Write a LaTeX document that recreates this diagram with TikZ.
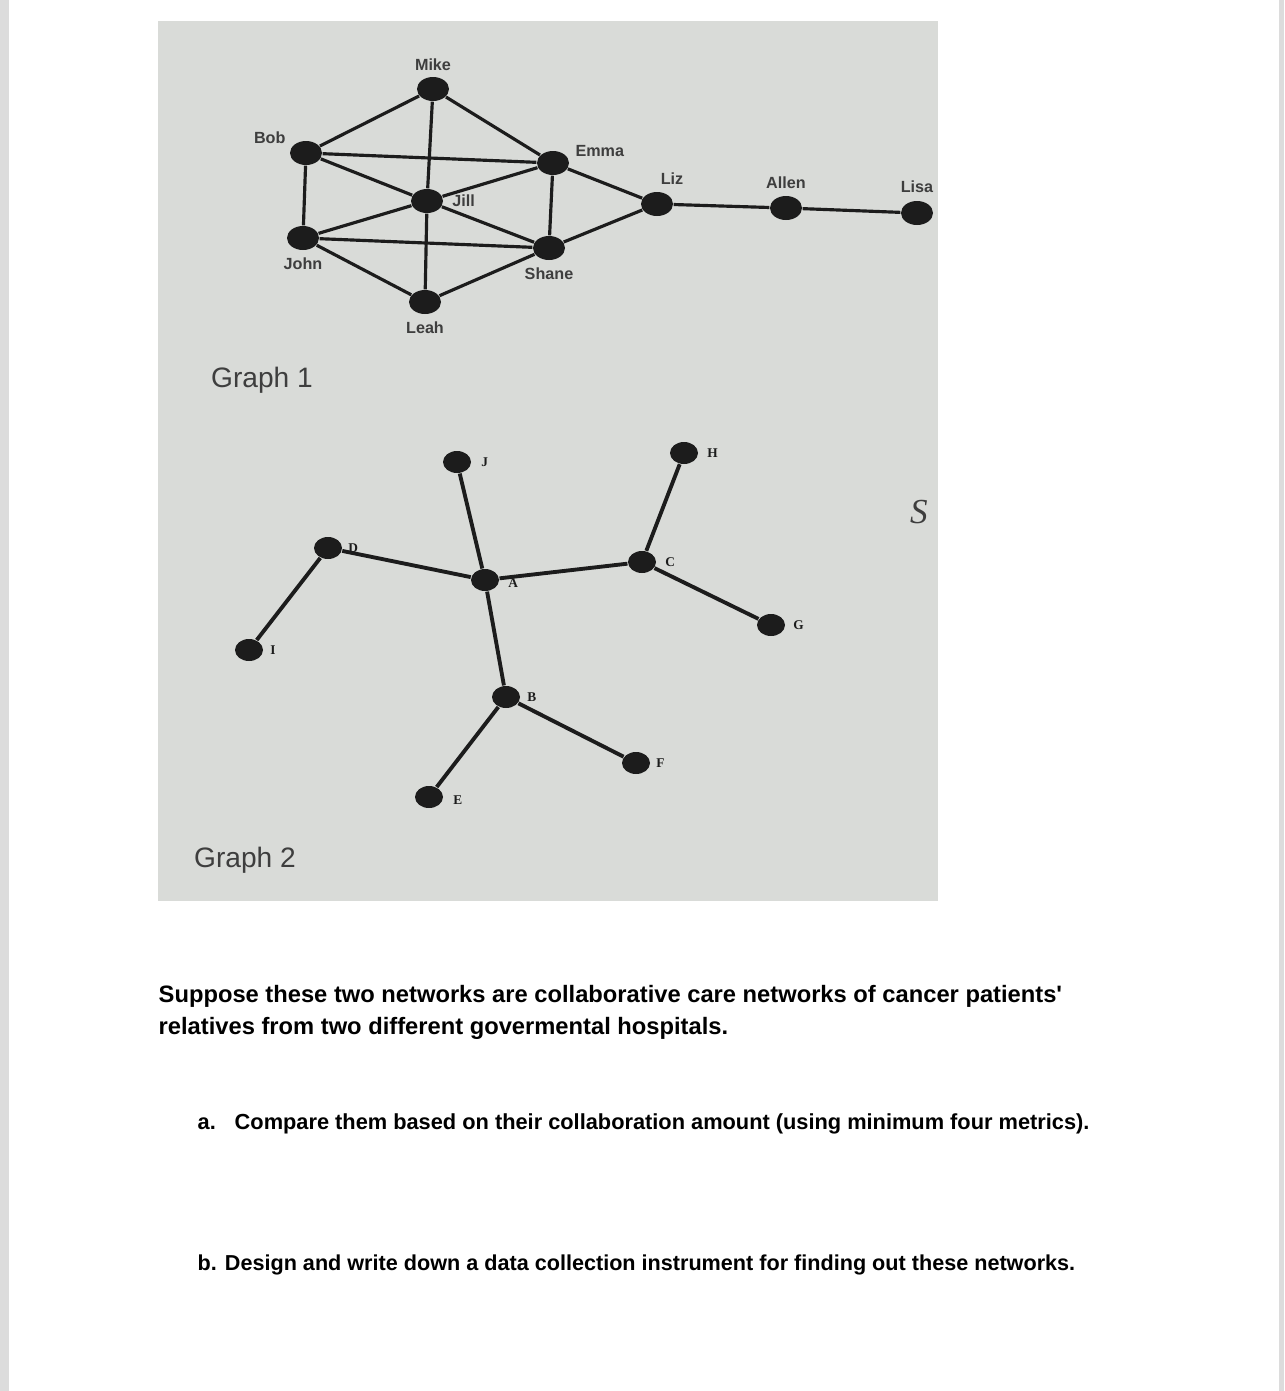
\documentclass[tikz,border=0pt]{standalone}
\usepackage{fontspec}
\setmainfont{Liberation Sans}
\newfontfamily\serifface{Liberation Serif}
\usetikzlibrary{positioning,shapes.geometric}
\definecolor{photo}{HTML}{D9DBD8}
\definecolor{ink}{HTML}{1C1C1C}
\definecolor{pagegray}{HTML}{DCDCDC}

\begin{document}
\begin{tikzpicture}[
  person/.style={ellipse, fill=ink, inner sep=0pt, minimum width=0.32cm, minimum height=0.24cm},
  letter/.style={ellipse, fill=ink, inner sep=0pt, minimum width=0.28cm, minimum height=0.22cm},
  tie/.style={draw=ink, line width=0.9pt},
  bond/.style={draw=ink, line width=1.1pt},
  who/.style={font=\fontsize{4.6}{5}\selectfont\bfseries, text=ink!85, inner sep=0pt},
  tag/.style={font=\serifface\fontsize{3.8}{4}\selectfont\bfseries, text=ink, inner sep=0pt},
  caption/.style={font=\fontsize{8}{9}\selectfont, text=ink!85},
  question/.style={font=\fontsize{6.2}{9.1}\selectfont\bfseries, align=left, inner sep=0pt, anchor=west},
]
\useasboundingbox[fill=white] (0,0) rectangle (12.84,-13.91);
\fill[pagegray] (0,0) rectangle (0.09,-13.91);
\fill[pagegray] (12.79,0) rectangle (12.84,-13.91);
\fill[photo] (1.58,-0.21) rectangle (9.38,-9.01);

% graph 1
\node[person] (mike) at (4.33,-0.89) {};
\node[person] (bob) at (3.06,-1.53) {};
\node[person] (emma) at (5.53,-1.63) {};
\node[person] (jill) at (4.27,-2.01) {};
\node[person] (john) at (3.03,-2.38) {};
\node[person] (shane) at (5.49,-2.48) {};
\node[person] (leah) at (4.25,-3.02) {};
\node[person] (liz) at (6.57,-2.04) {};
\node[person] (allen) at (7.86,-2.08) {};
\node[person] (lisa) at (9.17,-2.13) {};
\node[who,above=0.05cm of mike] (mikeL) {Mike};
\node[who,above left=0cm and 0.08cm of bob] (bobL) {Bob};
\node[who,above right=-0.03cm and 0.1cm of emma] (emmaL) {Emma};
\node[who,right=0.08cm of jill] (jillL) {Jill};
\node[who,below=0.06cm of john] (johnL) {John};
\node[who,below=0.06cm of shane] (shaneL) {Shane};
\node[who,below=0.06cm of leah] (leahL) {Leah};
\node[who,above=0.06cm of liz,xshift=0.15cm] (lizL) {Liz};
\node[who,above=0.06cm of allen] (allenL) {Allen};
\node[who,above=0.07cm of lisa] (lisaL) {Lisa};
\draw[tie] (mike) -- (bob);
\draw[tie] (mike) -- (jill);
\draw[tie] (mike) -- (emma);
\draw[tie] (bob) -- (emma);
\draw[tie] (bob) -- (jill);
\draw[tie] (bob) -- (john);
\draw[tie] (jill) -- (emma);
\draw[tie] (jill) -- (john);
\draw[tie] (jill) -- (shane);
\draw[tie] (jill) -- (leah);
\draw[tie] (john) -- (shane);
\draw[tie] (john) -- (leah);
\draw[tie] (emma) -- (shane);
\draw[tie] (emma) -- (liz);
\draw[tie] (shane) -- (liz);
\draw[tie] (shane) -- (leah);
\draw[tie] (liz) -- (allen);
\draw[tie] (allen) -- (lisa);
\node[caption] (cap1) at (2.62,-3.80) {Graph 1};

% graph 2
\node[letter] (a) at (4.85,-5.80) {};
\node[letter] (j) at (4.57,-4.62) {};
\node[letter] (d) at (3.28,-5.48) {};
\node[letter] (i) at (2.49,-6.50) {};
\node[letter] (b) at (5.06,-6.97) {};
\node[letter] (e) at (4.29,-7.97) {};
\node[letter] (f) at (6.36,-7.63) {};
\node[letter] (c) at (6.42,-5.62) {};
\node[letter] (h) at (6.84,-4.53) {};
\node[letter] (g) at (7.71,-6.25) {};
\node[tag,right=0.09cm of j] (jL) {J};
\node[tag,right=0.05cm of d] (dL) {D};
\node[tag,right=0.08cm of a,yshift=-0.03cm] (aL) {A};
\node[tag,right=0.06cm of i] (iL) {I};
\node[tag,right=0.06cm of b] (bL) {B};
\node[tag,right=0.09cm of e,yshift=-0.03cm] (eL) {E};
\node[tag,right=0.05cm of f] (fL) {F};
\node[tag,right=0.08cm of c] (cL) {C};
\node[tag,right=0.08cm of h] (hL) {H};
\node[tag,right=0.07cm of g] (gL) {G};
\draw[bond] (j) -- (a);
\draw[bond] (d) -- (a);
\draw[bond] (d) -- (i);
\draw[bond] (a) -- (c);
\draw[bond] (a) -- (b);
\draw[bond] (c) -- (h);
\draw[bond] (c) -- (g);
\draw[bond] (b) -- (e);
\draw[bond] (b) -- (f);
\node[font=\serifface\itshape\fontsize{10}{10}\selectfont, text=ink!85] (pen) at (9.19,-5.12) {S};
\node[caption] (cap2) at (2.45,-8.60) {Graph 2};

% questions
\node[question,font=\fontsize{6.75}{9.1}\selectfont\bfseries] (intro) at (1.58,-10.12) {Suppose these two networks are collaborative care networks of cancer patients\textquotesingle\\relatives from two different govermental hospitals.};
\node[question] (amark) at (1.97,-11.24) {a.};
\node[question] (qa) at (2.34,-11.24) {Compare them based on their collaboration amount (using minimum four metrics).};
\node[question,font=\fontsize{6.15}{9.1}\selectfont\bfseries] (qb) at (1.97,-12.65) {b. Design and write down a data collection instrument for finding out these networks.};
\end{tikzpicture}
\end{document}
